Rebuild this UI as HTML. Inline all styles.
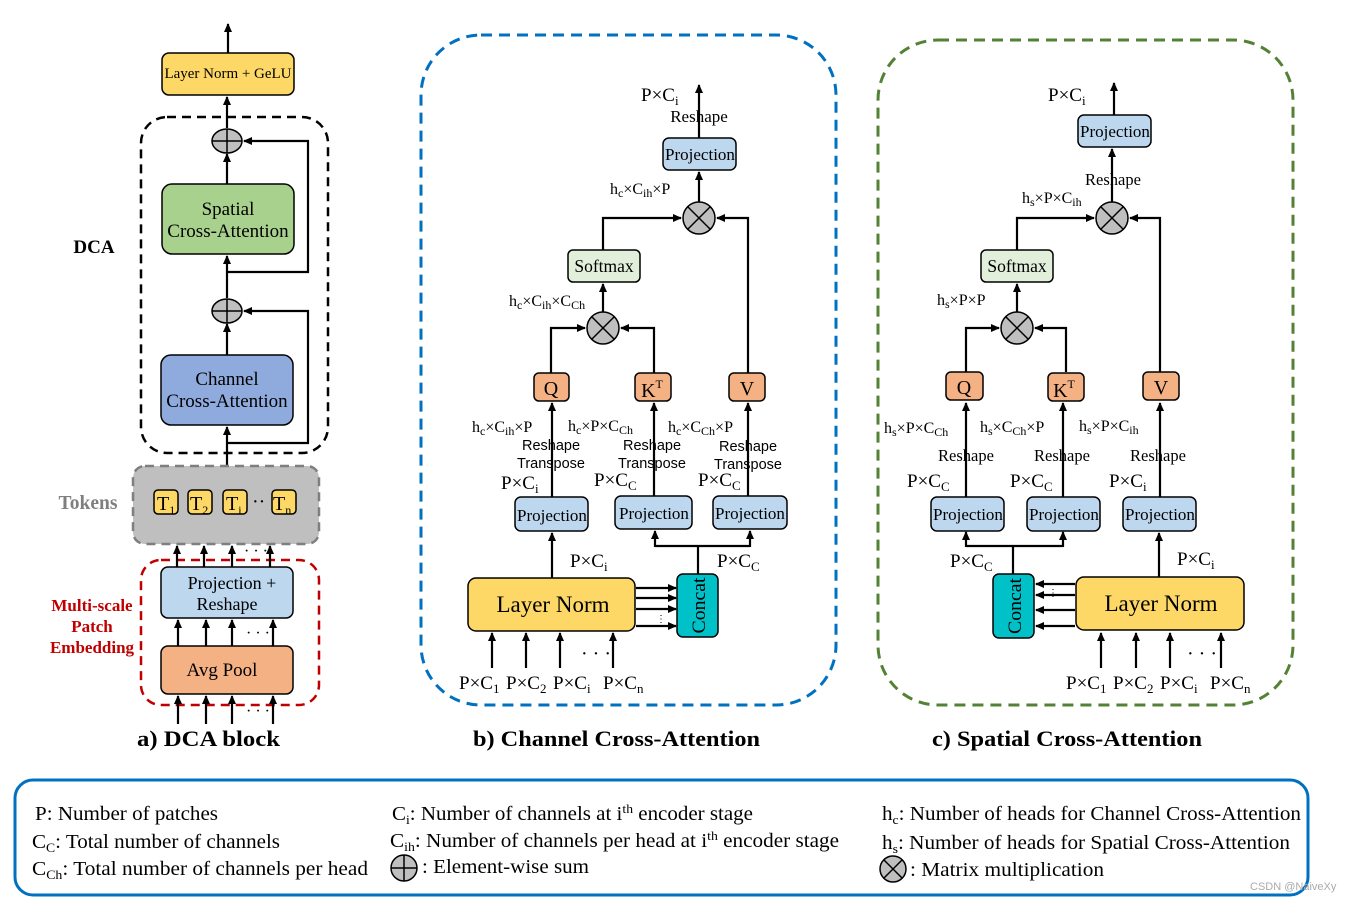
<!DOCTYPE html>
<html><head><meta charset="utf-8"><style>
html,body{margin:0;padding:0;background:#fff;}
svg{display:block;}
text{font-family:"Liberation Serif",serif;fill:#000;}
.s{font-family:"Liberation Sans",sans-serif;}
</style></head><body>
<svg width="1357" height="903" viewBox="0 0 1357 903" xmlns="http://www.w3.org/2000/svg">
<defs>
<marker id="a" markerWidth="10" markerHeight="10" refX="8" refY="5" orient="auto" markerUnits="userSpaceOnUse">
<path d="M0,1 L9,5 L0,9 z" fill="#000"/></marker>
</defs>
<g stroke="#000" stroke-width="2.2" fill="none">
<line x1="228" y1="53" x2="228" y2="24" marker-end="url(#a)"/>
<line x1="227" y1="128" x2="227" y2="97" marker-end="url(#a)"/>
<line x1="227" y1="184" x2="227" y2="154" marker-end="url(#a)"/>
<line x1="227" y1="298" x2="227" y2="256" marker-end="url(#a)"/>
<line x1="227" y1="355" x2="227" y2="324" marker-end="url(#a)"/>
<line x1="227" y1="466" x2="227" y2="427" marker-end="url(#a)"/>
<polyline points="227,272 308,272 308,141 244,141" marker-end="url(#a)"/>
<polyline points="227,443 308,443 308,311 244,311" marker-end="url(#a)"/>
</g>
<rect x="162" y="53" width="132" height="42" rx="7" fill="#fdd866" stroke="#000" stroke-width="1.5"/>
<text x="228" y="78" font-size="14.5" text-anchor="middle" textLength="127" lengthAdjust="spacingAndGlyphs">Layer Norm + GeLU</text>
<rect x="141" y="117" width="187" height="336" rx="26" fill="none" stroke="#000" stroke-width="2.5" stroke-dasharray="9,6"/>
<ellipse cx="227" cy="141" rx="15" ry="12" fill="#bfbfbf" stroke="#000" stroke-width="1.5"/>
<path d="M212,141 H242 M227,129 V153" stroke="#000" stroke-width="1.5"/>
<ellipse cx="227" cy="311" rx="15" ry="12" fill="#bfbfbf" stroke="#000" stroke-width="1.5"/>
<path d="M212,311 H242 M227,299 V323" stroke="#000" stroke-width="1.5"/>
<rect x="162" y="184" width="132" height="70" rx="10" fill="#a9d18e" stroke="#000" stroke-width="1.5"/>
<text x="228" y="215" font-size="19" text-anchor="middle">Spatial</text>
<text x="228" y="237" font-size="19" text-anchor="middle">Cross-Attention</text>
<rect x="161" y="355" width="132" height="70" rx="10" fill="#8faadc" stroke="#000" stroke-width="1.5"/>
<text x="227" y="385" font-size="19" text-anchor="middle">Channel</text>
<text x="227" y="407" font-size="19" text-anchor="middle">Cross-Attention</text>
<text x="94" y="253" font-size="19" font-weight="bold" text-anchor="middle">DCA</text>
<rect x="133" y="466" width="186" height="78" rx="12" fill="#bfbfbf" stroke="#7f7f7f" stroke-width="2.5" stroke-dasharray="9,6"/>
<text x="88" y="509" font-size="19.5" font-weight="bold" text-anchor="middle" style="fill:#7f7f7f">Tokens</text>
<g font-size="20">
<rect x="154" y="490" width="24" height="24" rx="4" fill="#fdd866" stroke="#000" stroke-width="1.5"/><text x="157" y="510">T<tspan font-size="12" dy="4">1</tspan></text>
<rect x="188" y="490" width="24" height="24" rx="4" fill="#fdd866" stroke="#000" stroke-width="1.5"/><text x="190" y="510">T<tspan font-size="12" dy="4">2</tspan></text>
<rect x="223" y="490" width="24" height="24" rx="4" fill="#fdd866" stroke="#000" stroke-width="1.5"/><text x="226" y="510">T<tspan font-size="12" dy="4">i</tspan></text>
<text x="252" y="508">··</text>
<rect x="272" y="490" width="24" height="24" rx="4" fill="#fdd866" stroke="#000" stroke-width="1.5"/><text x="273" y="510">T<tspan font-size="12" dy="4">n</tspan></text>
</g>
<rect x="141" y="560" width="178" height="145" rx="20" fill="none" stroke="#c00000" stroke-width="2.5" stroke-dasharray="9,6"/>
<g stroke="#000" stroke-width="2.2" fill="none">
<line x1="177" y1="567" x2="177" y2="546" marker-end="url(#a)"/>
<line x1="204" y1="567" x2="204" y2="546" marker-end="url(#a)"/>
<line x1="232" y1="567" x2="232" y2="546" marker-end="url(#a)"/>
<line x1="270" y1="567" x2="270" y2="546" marker-end="url(#a)"/>
<line x1="178" y1="646" x2="178" y2="620" marker-end="url(#a)"/>
<line x1="206" y1="646" x2="206" y2="620" marker-end="url(#a)"/>
<line x1="232" y1="646" x2="232" y2="620" marker-end="url(#a)"/>
<line x1="273" y1="646" x2="273" y2="620" marker-end="url(#a)"/>
<line x1="178" y1="724" x2="178" y2="696" marker-end="url(#a)"/>
<line x1="206" y1="724" x2="206" y2="696" marker-end="url(#a)"/>
<line x1="232" y1="724" x2="232" y2="696" marker-end="url(#a)"/>
<line x1="273" y1="724" x2="273" y2="696" marker-end="url(#a)"/>
</g>
<text x="244" y="556" font-size="16">· · ·</text>
<text x="246" y="638" font-size="16">· · ·</text>
<text x="246" y="716" font-size="16">· · ·</text>
<rect x="161" y="567" width="132" height="51" rx="7" fill="#bdd7ee" stroke="#000" stroke-width="1.5"/>
<text x="232" y="589" font-size="18" text-anchor="middle">Projection +</text>
<text x="227" y="610" font-size="18" text-anchor="middle">Reshape</text>
<rect x="161" y="646" width="132" height="48" rx="7" fill="#f4b183" stroke="#000" stroke-width="1.5"/>
<text x="222" y="676" font-size="19" text-anchor="middle">Avg Pool</text>
<g font-size="17" font-weight="bold" text-anchor="middle">
<text x="92" y="611" style="fill:#c00000">Multi-scale</text>
<text x="92" y="632" style="fill:#c00000">Patch</text>
<text x="92" y="653" style="fill:#c00000">Embedding</text>
</g>
<text x="137" y="746" font-size="22" font-weight="bold" textLength="143" lengthAdjust="spacingAndGlyphs">a) DCA block</text>

<!-- Panel b -->
<rect x="421" y="35" width="415" height="670" rx="60" fill="none" stroke="#0070c0" stroke-width="3" stroke-dasharray="11,7"/>
<g stroke="#000" stroke-width="2.2" fill="none">
<line x1="492" y1="668" x2="492" y2="633" marker-end="url(#a)"/>
<line x1="526" y1="668" x2="526" y2="633" marker-end="url(#a)"/>
<line x1="560" y1="668" x2="560" y2="633" marker-end="url(#a)"/>
<line x1="613" y1="668" x2="613" y2="633" marker-end="url(#a)"/>
<line x1="636" y1="588" x2="676" y2="588" marker-end="url(#a)"/>
<line x1="636" y1="598" x2="676" y2="598" marker-end="url(#a)"/>
<line x1="636" y1="609" x2="676" y2="609" marker-end="url(#a)"/>
<line x1="636" y1="626" x2="676" y2="626" marker-end="url(#a)"/>
<line x1="552" y1="578" x2="552" y2="533" marker-end="url(#a)"/>
<line x1="698" y1="574" x2="698" y2="546"/>
<polyline points="655,546 750,546"/>
<line x1="655" y1="547" x2="655" y2="531" marker-end="url(#a)"/>
<line x1="750" y1="547" x2="750" y2="531" marker-end="url(#a)"/>
<line x1="552" y1="497" x2="552" y2="403" marker-end="url(#a)"/>
<line x1="654" y1="496" x2="654" y2="403" marker-end="url(#a)"/>
<line x1="748" y1="496" x2="748" y2="403" marker-end="url(#a)"/>
<polyline points="551,373 551,328 585,328" marker-end="url(#a)"/>
<polyline points="654,373 654,328 621,328" marker-end="url(#a)"/>
<line x1="603" y1="312" x2="603" y2="284" marker-end="url(#a)"/>
<polyline points="603,250 603,218 681,218" marker-end="url(#a)"/>
<polyline points="748,373 748,218 717,218" marker-end="url(#a)"/>
<line x1="699" y1="202" x2="699" y2="172" marker-end="url(#a)"/>
<line x1="699" y1="138" x2="699" y2="85" marker-end="url(#a)"/>
</g>
<rect x="468" y="578" width="167" height="53" rx="8" fill="#fdd866" stroke="#000" stroke-width="1.5"/>
<text x="553" y="612" font-size="23" text-anchor="middle">Layer Norm</text>
<rect x="677" y="574" width="41" height="63" rx="6" fill="#00c0c8" stroke="#000" stroke-width="1.5"/>
<text transform="translate(705,605.5) rotate(-90)" font-size="19" text-anchor="middle" textLength="56" lengthAdjust="spacingAndGlyphs">Concat</text>
<text x="656" y="622" font-size="10">⋮</text>
<text x="581" y="660" font-size="20">· · ·</text>
<g font-size="19">
<text x="459" y="689">P×C<tspan font-size="13" dy="4">1</tspan></text>
<text x="506" y="689">P×C<tspan font-size="13" dy="4">2</tspan></text>
<text x="553" y="689">P×C<tspan font-size="13" dy="4">i</tspan></text>
<text x="603" y="689">P×C<tspan font-size="13" dy="4">n</tspan></text>
<text x="570" y="567">P×C<tspan font-size="13" dy="4">i</tspan></text>
<text x="717" y="567">P×C<tspan font-size="13" dy="4">C</tspan></text>
<text x="501" y="489">P×C<tspan font-size="13" dy="4">i</tspan></text>
<text x="594" y="486">P×C<tspan font-size="13" dy="4">C</tspan></text>
<text x="698" y="486">P×C<tspan font-size="13" dy="4">C</tspan></text>
</g>
<g font-size="16">
<text x="472" y="432">h<tspan font-size="12" dy="3">c</tspan><tspan dy="-3">×C</tspan><tspan font-size="12" dy="3">ih</tspan><tspan dy="-3">×P</tspan></text>
<text x="568" y="431">h<tspan font-size="12" dy="3">c</tspan><tspan dy="-3">×P×C</tspan><tspan font-size="12" dy="3">Ch</tspan></text>
<text x="668" y="432">h<tspan font-size="12" dy="3">c</tspan><tspan dy="-3">×C</tspan><tspan font-size="12" dy="3">Ch</tspan><tspan dy="-3">×P</tspan></text>
<text x="509" y="306">h<tspan font-size="12" dy="3">c</tspan><tspan dy="-3">×C</tspan><tspan font-size="12" dy="3">ih</tspan><tspan dy="-3">×C</tspan><tspan font-size="12" dy="3">Ch</tspan></text>
<text x="610" y="194">h<tspan font-size="12" dy="3">c</tspan><tspan dy="-3">×C</tspan><tspan font-size="12" dy="3">ih</tspan><tspan dy="-3">×P</tspan></text>
</g>
<g font-size="14.5" text-anchor="middle">
<text class="s" x="551" y="450">Reshape</text><text class="s" x="551" y="468">Transpose</text>
<text class="s" x="652" y="450">Reshape</text><text class="s" x="652" y="468">Transpose</text>
<text class="s" x="748" y="451">Reshape</text><text class="s" x="748" y="469">Transpose</text>
</g>
<g fill="#bdd7ee" stroke="#000" stroke-width="1.5">
<rect x="515" y="497" width="73" height="34" rx="6"/>
<rect x="615" y="496" width="77" height="33" rx="6"/>
<rect x="713" y="496" width="74" height="33" rx="6"/>
<rect x="663" y="138" width="73" height="32" rx="6"/>
</g>
<g font-size="17" text-anchor="middle">
<text x="552" y="521">Projection</text><text x="654" y="519">Projection</text><text x="750" y="519">Projection</text><text x="700" y="160">Projection</text>
</g>
<g fill="#f4b183" stroke="#000" stroke-width="1.5">
<rect x="534" y="373" width="35" height="28" rx="5"/><rect x="635" y="373" width="36" height="28" rx="5"/><rect x="729" y="373" width="36" height="28" rx="5"/>
</g>
<g font-size="20" text-anchor="middle"><text x="551" y="395">Q</text><text x="652" y="397">K<tspan font-size="12" dy="-9">T</tspan></text><text x="747" y="395">V</text></g>
<rect x="568" y="250" width="72" height="32" rx="5" fill="#e2efda" stroke="#000" stroke-width="1.5"/>
<text x="604" y="272" font-size="17.5" text-anchor="middle">Softmax</text>
<g fill="#bfbfbf" stroke="#000" stroke-width="1.5">
<circle cx="603" cy="328" r="16"/><circle cx="699" cy="218" r="16"/>
</g>
<path d="M592,317 L614,339 M614,317 L592,339 M688,207 L710,229 M710,207 L688,229" stroke="#000" stroke-width="1.5"/>
<text x="699" y="122" font-size="17" text-anchor="middle">Reshape</text>
<text x="641" y="101" font-size="19">P×C<tspan font-size="13" dy="4">i</tspan></text>
<text x="473" y="746" font-size="22" font-weight="bold" textLength="287" lengthAdjust="spacingAndGlyphs">b) Channel Cross-Attention</text>

<!-- Panel c -->
<rect x="878" y="40" width="415" height="665" rx="60" fill="none" stroke="#548235" stroke-width="3" stroke-dasharray="11,7"/>
<g stroke="#000" stroke-width="2.2" fill="none">
<line x1="1101" y1="668" x2="1101" y2="633" marker-end="url(#a)"/>
<line x1="1136" y1="668" x2="1136" y2="633" marker-end="url(#a)"/>
<line x1="1170" y1="668" x2="1170" y2="633" marker-end="url(#a)"/>
<line x1="1221" y1="668" x2="1221" y2="633" marker-end="url(#a)"/>
<line x1="1075" y1="584" x2="1036" y2="584" marker-end="url(#a)"/>
<line x1="1075" y1="595" x2="1036" y2="595" marker-end="url(#a)"/>
<line x1="1075" y1="610" x2="1036" y2="610" marker-end="url(#a)"/>
<line x1="1075" y1="626" x2="1036" y2="626" marker-end="url(#a)"/>
<line x1="1159" y1="577" x2="1159" y2="533" marker-end="url(#a)"/>
<line x1="1013" y1="574" x2="1013" y2="546"/>
<polyline points="966,546 1063,546"/>
<line x1="966" y1="547" x2="966" y2="532" marker-end="url(#a)"/>
<line x1="1063" y1="547" x2="1063" y2="532" marker-end="url(#a)"/>
<line x1="966" y1="497" x2="966" y2="403" marker-end="url(#a)"/>
<line x1="1063" y1="497" x2="1063" y2="403" marker-end="url(#a)"/>
<line x1="1160" y1="497" x2="1160" y2="403" marker-end="url(#a)"/>
<polyline points="966,372 966,328 999,328" marker-end="url(#a)"/>
<polyline points="1066,372 1066,328 1035,328" marker-end="url(#a)"/>
<line x1="1017" y1="312" x2="1017" y2="284" marker-end="url(#a)"/>
<polyline points="1017,250 1017,218 1094,218" marker-end="url(#a)"/>
<polyline points="1160,372 1160,218 1130,218" marker-end="url(#a)"/>
<line x1="1112" y1="202" x2="1112" y2="149" marker-end="url(#a)"/>
<line x1="1114" y1="115" x2="1114" y2="83" marker-end="url(#a)"/>
</g>
<rect x="1076" y="577" width="168" height="53" rx="8" fill="#fdd866" stroke="#000" stroke-width="1.5"/>
<text x="1161" y="611" font-size="23" text-anchor="middle">Layer Norm</text>
<rect x="993" y="574" width="41" height="64" rx="6" fill="#00c0c8" stroke="#000" stroke-width="1.5"/>
<text transform="translate(1021,606) rotate(-90)" font-size="19" text-anchor="middle" textLength="56" lengthAdjust="spacingAndGlyphs">Concat</text>
<text x="1048" y="596" font-size="10">⋮</text>
<text x="1187" y="660" font-size="20">· · ·</text>
<g font-size="19">
<text x="1066" y="689">P×C<tspan font-size="13" dy="4">1</tspan></text>
<text x="1113" y="689">P×C<tspan font-size="13" dy="4">2</tspan></text>
<text x="1160" y="689">P×C<tspan font-size="13" dy="4">i</tspan></text>
<text x="1210" y="689">P×C<tspan font-size="13" dy="4">n</tspan></text>
<text x="950" y="567">P×C<tspan font-size="13" dy="4">C</tspan></text>
<text x="1177" y="565">P×C<tspan font-size="13" dy="4">i</tspan></text>
<text x="907" y="487">P×C<tspan font-size="13" dy="4">C</tspan></text>
<text x="1010" y="487">P×C<tspan font-size="13" dy="4">C</tspan></text>
<text x="1109" y="487">P×C<tspan font-size="13" dy="4">i</tspan></text>
<text x="1048" y="101">P×C<tspan font-size="13" dy="4">i</tspan></text>
</g>
<g font-size="16">
<text x="884" y="433">h<tspan font-size="12" dy="3">s</tspan><tspan dy="-3">×P×C</tspan><tspan font-size="12" dy="3">Ch</tspan></text>
<text x="980" y="432">h<tspan font-size="12" dy="3">s</tspan><tspan dy="-3">×C</tspan><tspan font-size="12" dy="3">Ch</tspan><tspan dy="-3">×P</tspan></text>
<text x="1079" y="431">h<tspan font-size="12" dy="3">s</tspan><tspan dy="-3">×P×C</tspan><tspan font-size="12" dy="3">ih</tspan></text>
<text x="937" y="305">h<tspan font-size="12" dy="3">s</tspan><tspan dy="-3">×P×P</tspan></text>
<text x="1022" y="203">h<tspan font-size="12" dy="3">s</tspan><tspan dy="-3">×P×C</tspan><tspan font-size="12" dy="3">ih</tspan></text>
</g>
<g font-size="16.5" text-anchor="middle">
<text x="966" y="461">Reshape</text><text x="1062" y="461">Reshape</text><text x="1158" y="461">Reshape</text><text x="1113" y="185">Reshape</text>
</g>
<g fill="#bdd7ee" stroke="#000" stroke-width="1.5">
<rect x="931" y="497" width="73" height="34" rx="6"/>
<rect x="1027" y="497" width="73" height="34" rx="6"/>
<rect x="1123" y="497" width="73" height="34" rx="6"/>
<rect x="1078" y="115" width="73" height="32" rx="6"/>
</g>
<g font-size="17" text-anchor="middle">
<text x="968" y="520">Projection</text><text x="1064" y="520">Projection</text><text x="1160" y="520">Projection</text><text x="1115" y="137">Projection</text>
</g>
<g fill="#f4b183" stroke="#000" stroke-width="1.5">
<rect x="946" y="372" width="37" height="28" rx="5"/><rect x="1048" y="373" width="36" height="28" rx="5"/><rect x="1143" y="372" width="36" height="28" rx="5"/>
</g>
<g font-size="20" text-anchor="middle"><text x="964" y="394">Q</text><text x="1064" y="397">K<tspan font-size="12" dy="-9">T</tspan></text><text x="1161" y="394">V</text></g>
<rect x="981" y="250" width="72" height="32" rx="5" fill="#e2efda" stroke="#000" stroke-width="1.5"/>
<text x="1017" y="272" font-size="17.5" text-anchor="middle">Softmax</text>
<g fill="#bfbfbf" stroke="#000" stroke-width="1.5">
<circle cx="1017" cy="328" r="16"/><circle cx="1112" cy="218" r="16"/>
</g>
<path d="M1006,317 L1028,339 M1028,317 L1006,339 M1101,207 L1123,229 M1123,207 L1101,229" stroke="#000" stroke-width="1.5"/>
<text x="932" y="746" font-size="22" font-weight="bold" textLength="270" lengthAdjust="spacingAndGlyphs">c) Spatial Cross-Attention</text>

<!-- Legend -->
<rect x="15" y="780" width="1293" height="115" rx="18" fill="none" stroke="#0070c0" stroke-width="3"/>
<g font-size="20">
<text x="35" y="820" textLength="183" lengthAdjust="spacingAndGlyphs">P: Number of patches</text>
<text x="32" y="848" textLength="248" lengthAdjust="spacingAndGlyphs">C<tspan font-size="13" dy="4">C</tspan><tspan dy="-4">: Total number of channels</tspan></text>
<text x="32" y="875" textLength="336" lengthAdjust="spacingAndGlyphs">C<tspan font-size="13" dy="4">Ch</tspan><tspan dy="-4">: Total number of channels per head</tspan></text>
<text x="392" y="820" textLength="361" lengthAdjust="spacingAndGlyphs">C<tspan font-size="13" dy="4">i</tspan><tspan dy="-4">: Number of channels at i</tspan><tspan font-size="13" dy="-7">th</tspan><tspan dy="7"> encoder stage</tspan></text>
<text x="390" y="847" textLength="449" lengthAdjust="spacingAndGlyphs">C<tspan font-size="13" dy="4">ih</tspan><tspan dy="-4">: Number of channels per head at i</tspan><tspan font-size="13" dy="-7">th</tspan><tspan dy="7"> encoder stage</tspan></text>
<text x="422" y="873" textLength="167" lengthAdjust="spacingAndGlyphs">: Element-wise sum</text>
<text x="882" y="820" textLength="419" lengthAdjust="spacingAndGlyphs">h<tspan font-size="13" dy="4">c</tspan><tspan dy="-4">: Number of heads for Channel Cross-Attention</tspan></text>
<text x="882" y="849" textLength="408" lengthAdjust="spacingAndGlyphs">h<tspan font-size="13" dy="4">s</tspan><tspan dy="-4">: Number of heads for Spatial Cross-Attention</tspan></text>
<text x="910" y="876" textLength="194" lengthAdjust="spacingAndGlyphs">: Matrix multiplication</text>
</g>
<circle cx="404" cy="868" r="13" fill="#bfbfbf" stroke="#000" stroke-width="1.5"/>
<path d="M391,868 H417 M404,855 V881" stroke="#000" stroke-width="1.5"/>
<circle cx="893" cy="869" r="13" fill="#bfbfbf" stroke="#000" stroke-width="1.5"/>
<path d="M884,860 L902,878 M902,860 L884,878" stroke="#000" stroke-width="1.5"/>
<text x="1250" y="890" font-size="11" class="s" style="fill:#aaa">CSDN @NaiveXy</text>
</svg>
</body></html>
